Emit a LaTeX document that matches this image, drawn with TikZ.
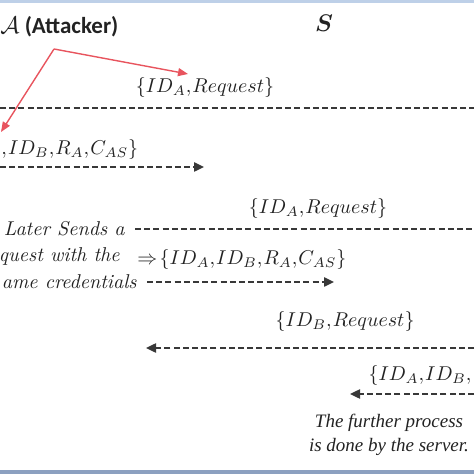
\documentclass[tikz,border=0pt]{standalone}
\usepackage{fontspec}
\usetikzlibrary{arrows.meta}
\newfontfamily\attfont{Carlito}
\newfontfamily\remarkfont{Liberation Serif}
\definecolor{attred}{RGB}{232,84,94}
\definecolor{frametop}{RGB}{190,208,232}
\definecolor{framebot}{RGB}{140,160,192}
\definecolor{ink}{RGB}{34,34,34}
\newcommand{\tc}{{,}\mkern1mu}
\tikzset{
  msg/.style={
    inner sep = 0pt,
    text = ink
  },
  note/.style={
    inner sep = 0pt,
    text = ink,
    font = \itshape
  },
  flow/.style={
    draw = ink!90,
    line width = 0.9pt,
    dash pattern = on 3pt off 1.6pt
  },
  flowarr/.style={
    flow,
    -{Triangle[length=5pt,width=4.6pt]}
  },
  attack/.style={
    draw = attred,
    line width = 0.7pt,
    -{Triangle[length=5pt,width=4pt]}
  }
}

\begin{document}
\begin{tikzpicture}[x=0.5pt,y=-0.5pt]
    \useasboundingbox (0,0) rectangle (474,474);
    \fill[frametop] (0,0) rectangle (474,3);
    \fill[framebot] (0,470) rectangle (474,474);
    % parties
    \node[msg, anchor=west, font=\attfont\bfseries\fontsize{11.5}{14}\selectfont] (atk) at (0,27) {$\mathcal{A}$ (Attacker)};
    \node[msg, font=\large\boldmath] (srv) at (324,23) {$S$};
    % attacker intercepts
    \coordinate (fork) at (54,49);
    \coordinate (tipR) at (188,74);
    \coordinate (tipL) at (1,132);
    \draw[attack] (fork) -- (tipR);
    \draw[attack] (fork) -- (tipL);
    % first run
    \node[msg] (req1) at (205,88) {$\{ID_A\tc Request\}$};
    \coordinate (w1) at (0,108);
    \coordinate (e1) at (474,108);
    \draw[flow] (w1) -- (e1);
    \node[msg, anchor=west] (cred1) at (1,150) {$\tc ID_B\tc R_A\tc C_{AS}\}$};
    \coordinate (w2) at (0,167);
    \coordinate (e2) at (204,167);
    \draw[flowarr] (w2) -- (e2);
    % replay
    \node[msg] (req2) at (318,209) {$\{ID_A\tc Request\}$};
    \node[note, anchor=east] (later1) at (125,229) {Later Sends a};
    \node[note, anchor=east] (later2) at (120,257) {quest with the};
    \node[note, anchor=east] (later3) at (137,282) {ame credentials};
    \coordinate (e3) at (474,229);
    \draw[flow] ([xshift=5pt]later1.east) -- (e3);
    \node[msg, anchor=west] (cred2) at (137,260) {$\Rightarrow\!\{ID_A\tc ID_B\tc R_A\tc C_{AS}\}$};
    \coordinate (e4) at (334,282);
    \draw[flowarr] ([xshift=5pt]later3.east) -- (e4);
    % server side
    \node[msg] (req3) at (345,322) {$\{ID_B\tc Request\}$};
    \coordinate (e5) at (474,348);
    \coordinate (w5) at (146,348);
    \draw[flowarr] (e5) -- (w5);
    \node[msg, anchor=east] (cred3) at (473,375) {$\{ID_A\tc ID_B\tc$};
    \coordinate (e6) at (474,394);
    \coordinate (w6) at (350,394);
    \draw[flowarr] (e6) -- (w6);
    \node[msg, align=center, font=\remarkfont\itshape\fontsize{9.5}{12}\selectfont] (done) at (389,435) {The further process\\is done by the server.};
\end{tikzpicture}
\end{document}
